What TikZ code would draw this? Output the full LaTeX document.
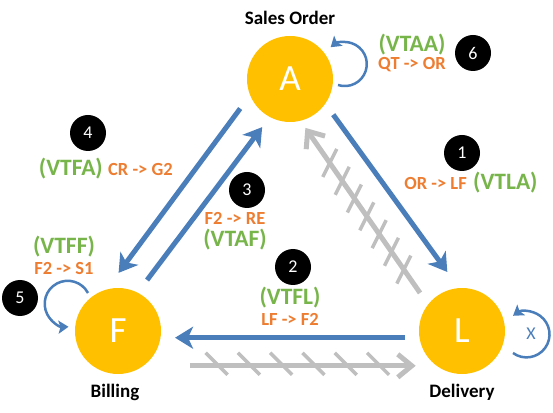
\documentclass[tikz,border=0pt]{standalone}
\usepackage{fontspec}
\setmainfont{Carlito}
\usepackage{tikz}
\usetikzlibrary{arrows.meta, calc}
\definecolor{gold}{HTML}{FFC000}
\definecolor{steel}{HTML}{4A7EBB}
\definecolor{leaf}{HTML}{77B54A}
\definecolor{tangerine}{HTML}{ED7D31}
\definecolor{ash}{HTML}{BFBFBF}
\tikzstyle{docnode} = [circle,
					  minimum size=86pt,
					  inner sep=0pt,
					  outer sep=0pt,
					  fill=gold,
					  text=white,
					  font=\fontsize{37}{37}\selectfont,
					 ]
\tikzstyle{stepnum} = [circle,
					  minimum size=36pt,
					  inner sep=0pt,
					  fill=black,
					  text=white,
					  font=\fontsize{18}{18}\selectfont,
					 ]
\tikzstyle{doclabel} = [font=\bfseries\fontsize{19}{19}\selectfont]
\tikzstyle{trans} = [inner sep=1pt, text=leaf, font=\bfseries\fontsize{23.5}{23.5}\selectfont]
\tikzstyle{mapping} = [inner sep=1pt, text=tangerine, font=\bfseries\fontsize{18.5}{18.5}\selectfont]
\tikzstyle{flow} = [steel, line width=5pt, -{Stealth[length=18pt,width=22pt,inset=5pt]}]
\tikzstyle{blocked} = [ash, line width=5pt, -{Straight Barb[length=14pt,width=23pt]}]
\tikzstyle{hatch} = [ash, line width=3.5pt]
\tikzstyle{selfloop} = [steel, line width=2.5pt, -{Stealth[length=10pt,width=13pt,inset=2pt]}]

\begin{document}
\begin{tikzpicture}[x=1pt, y=1pt]
\useasboundingbox (0,0) rectangle (553,412);

\node (A) [docnode] at (290,333) {A};
\node (F) [docnode] at (118,81) {F};
\node (L) [docnode] at (462,81) {L};

\node (sales) [doclabel] at (290,394) {Sales Order};
\node (billing) [doclabel] at (115,20) {Billing};
\node (delivery) [doclabel] at (462,20) {Delivery};

\node (n1) [stepnum] at (462,259) {1};
\node (n2) [stepnum] at (293,145) {2};
\node (n3) [stepnum] at (247,222) {3};
\node (n4) [stepnum] at (88,279) {4};
\node (n5) [stepnum] at (20,114) {5};
\node (n6) [stepnum] at (473,359) {6};

\node (vtaa) [trans] at (412,367) {(VTAA)};
\node (qtor) [mapping] at (412,347) {QT -> OR};
\node (vtfa) [trans, anchor=base east] at (104,236) {(VTFA)};
\node (crgt) [mapping, anchor=base west] at (107,236) {CR -> G2};
\node (orlf) [mapping, anchor=base east] at (468,222) {OR -> LF};
\node (vtla) [trans, anchor=base west] at (472,222) {(VTLA)};
\node (f2re) [mapping] at (235,194) {F2 -> RE};
\node (vtaf) [trans] at (235,172) {(VTAF)};
\node (vtff) [trans] at (64,165) {(VTFF)};
\node (f2sa) [mapping] at (64,144) {F2 -> S1};
\node (vtfl) [trans] at (290,114) {(VTFL)};
\node (lff2) [mapping] at (290,93) {LF -> F2};
\node (cross) [text=steel, font=\fontsize{18}{18}\selectfont] at (531,78) {X};

\draw [flow, shorten <=13.6pt, shorten >=19.9pt] (A.-35.5) -- (L.94.4);
\draw [flow, shorten <=16.7pt, shorten >=20.9pt] (A.-158.7) -- (F.106.8);
\draw [flow, shorten <=15.8pt, shorten >=12.7pt] (F.63.1) -- (A.-118.4);
\draw [flow, shorten <=14.6pt, shorten >=14.6pt] (L.189.4) -- (F.-9.4);

\draw [blocked, shorten <=14.1pt, shorten >=8.75pt] (L.142.1) -- (A.-76.5);
\draw [blocked, shorten <=47pt, shorten >=21pt] (F.-54.5) -- (L.234.5);
\foreach \p in {0.19,0.287,0.383,0.48,0.577,0.673,0.77}
	\draw [hatch] ($(L.142.1)!\p!(A.-76.5)$) +(-7,-14) -- +(7,14);
\foreach \p in {0.25,0.36,0.47,0.58,0.69,0.80}
	\draw [hatch] ($(F.-54.5)!\p!(L.234.5)$) +(-11,13) -- +(11,-9);

\draw [selfloop] ([shift={(48,-6)}]A.center) arc[start angle=-108, end angle=130, radius=22];
\draw [selfloop] ([shift={(-30,38)}]F.center) arc[start angle=28, end angle=272, radius=23];
\draw [selfloop] ([shift={(51,-22)}]L.center) arc[start angle=-126, end angle=126, radius=23];

\end{tikzpicture}
\end{document}
